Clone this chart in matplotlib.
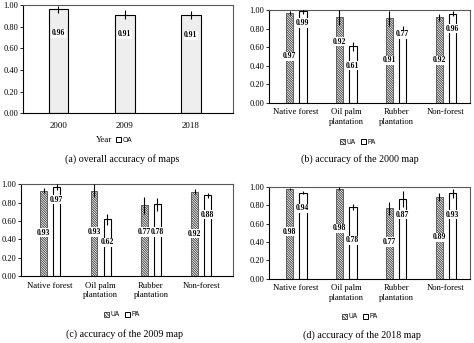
import matplotlib
matplotlib.use("Agg")
import matplotlib.pyplot as plt
import numpy as np
from matplotlib.patches import Patch

# ---------------- data ----------------
years = ["2000", "2009", "2018"]
oa = [0.96, 0.91, 0.91]
oa_err = [0.035, 0.04, 0.035]

classes = ["Native forest", "Oil palm\nplantation", "Rubber\nplantation", "Non-forest"]

ua_2000 = [0.97, 0.92, 0.91, 0.92]
pa_2000 = [0.99, 0.61, 0.77, 0.96]
ua_err_2000 = [0.02, 0.08, 0.08, 0.04]
pa_err_2000 = [0.03, 0.05, 0.06, 0.03]

ua_2009 = [0.93, 0.93, 0.77, 0.92]
pa_2009 = [0.97, 0.62, 0.78, 0.88]
ua_err_2009 = [0.025, 0.07, 0.09, 0.03]
pa_err_2009 = [0.03, 0.06, 0.07, 0.03]

ua_2018 = [0.98, 0.98, 0.77, 0.89]
pa_2018 = [0.94, 0.78, 0.87, 0.93]
ua_err_2018 = [0.01, 0.015, 0.07, 0.04]
pa_err_2018 = [0.02, 0.03, 0.09, 0.05]

# label heights (where the value labels sit)
oa_lab = [0.74, 0.73, 0.72]
ua_lab_2000 = [0.50, 0.66, 0.46, 0.46]
pa_lab_2000 = [0.86, 0.40, 0.74, 0.80]
ua_lab_2009 = [0.47, 0.48, 0.48, 0.46]
pa_lab_2009 = [0.83, 0.37, 0.48, 0.67]
ua_lab_2018 = [0.51, 0.55, 0.40, 0.45]
pa_lab_2018 = [0.77, 0.42, 0.70, 0.70]

captions = ["(a) overall accuracy of maps", "(b) accuracy of the 2000 map",
            "(c) accuracy of the 2009 map", "(d) accuracy of the 2018 map"]

SERIF = "Liberation Serif"
SANS = "Liberation Sans"
W, H = 474, 343
HATCH = "\\" * 14

plt.rcParams["hatch.linewidth"] = 0.6

fig = plt.figure(figsize=(W / 100, H / 100), dpi=100)


def rect(l, t, r, b):
    return [l / W, 1 - b / H, (r - l) / W, (b - t) / H]


def style_axes(ax):
    ax.set_ylim(0, 1.0)
    ax.set_yticks(np.arange(0, 1.01, 0.2))
    ax.set_yticklabels([f"{v:.2f}" for v in np.arange(0, 1.01, 0.2)],
                       fontfamily=SERIF, fontsize=6.0)
    ax.tick_params(axis="y", direction="out", length=2, width=0.6, pad=1.2)
    ax.tick_params(axis="x", length=0, pad=4)
    for s in ax.spines.values():
        s.set_linewidth(0.8)
        s.set_color("#595959")
    ax.spines["left"].set_color("black")
    ax.spines["bottom"].set_color("black")


def label(ax, x, y, v):
    ax.text(x, y, f"{v:.2f}", ha="center", va="center", fontfamily=SERIF,
            fontsize=5.5, fontweight="bold",
            bbox=dict(facecolor="white", edgecolor="none", pad=0.4))


# ---------------- panel a ----------------
ax = fig.add_axes(rect(22.7, 5, 233.3, 113.3))
xa = np.arange(len(years))
ax.bar(xa, oa, width=0.3, color="#eeeeee", edgecolor="black", linewidth=0.8, zorder=2)
ax.errorbar(xa, oa, yerr=oa_err, fmt="none", ecolor="black", elinewidth=0.8, capsize=0, zorder=3)
for x, v, p in zip(xa, oa, oa_lab):
    label(ax, x, p, v)
ax.set_xlim(-0.54, 2.64)
ax.set_xticks(xa)
ax.set_xticklabels(years, fontfamily=SERIF, fontsize=6.4)
style_axes(ax)
ax.tick_params(axis="x", pad=6)
fig.text(112 / W, 1 - 140 / H, "Year", ha="right", va="center", fontfamily=SERIF, fontsize=6.4)
fig.legend(handles=[Patch(facecolor="white", edgecolor="black", linewidth=0.7, label="OA")],
           loc="center left", bbox_to_anchor=(116 / W, 1 - 140 / H), frameon=False,
           prop={"family": SANS, "size": 4.8}, handlelength=0.8, handleheight=0.8,
           handletextpad=0.2, borderpad=0, borderaxespad=0)
fig.text(122 / W, 1 - 159 / H, captions[0], ha="center", va="center", fontfamily=SERIF, fontsize=7.2)


# ---------------- panels b, c, d ----------------
def class_panel(r, ua, pa, uae, pae, ual, pal, xlim, off, bw, leg_xy, cap_xy, cap):
    ax = fig.add_axes(rect(*r))
    x = np.arange(len(classes))
    ax.bar(x - off, ua, width=bw, facecolor="white", edgecolor="#333333", hatch=HATCH,
           linewidth=0.5, zorder=2)
    ax.bar(x + off, pa, width=bw, facecolor="white", edgecolor="black", linewidth=0.8, zorder=2)
    ax.errorbar(x - off, ua, yerr=uae, fmt="none", ecolor="black", elinewidth=0.8, capsize=0, zorder=3)
    ax.errorbar(x + off, pa, yerr=pae, fmt="none", ecolor="black", elinewidth=0.8, capsize=0, zorder=3)
    for xi, v, p in zip(x - off, ua, ual):
        label(ax, xi, p, v)
    for xi, v, p in zip(x + off, pa, pal):
        label(ax, xi, p, v)
    ax.set_xlim(*xlim)
    ax.set_xticks(x)
    ax.set_xticklabels(classes, fontfamily=SERIF, fontsize=6.2, linespacing=1.3)
    style_axes(ax)
    fig.legend(handles=[Patch(facecolor="white", edgecolor="#333333", hatch="\\" * 10,
                              linewidth=0.6, label="UA"),
                        Patch(facecolor="white", edgecolor="black", linewidth=0.7, label="PA")],
               loc="center", bbox_to_anchor=(leg_xy[0] / W, 1 - leg_xy[1] / H), ncol=2,
               frameon=False, prop={"family": SANS, "size": 4.8}, handlelength=0.8,
               handleheight=0.8, handletextpad=0.2, columnspacing=0.8, borderpad=0,
               borderaxespad=0)
    fig.text(cap_xy[0] / W, 1 - cap_xy[1] / H, cap, ha="center", va="center",
             fontfamily=SERIF, fontsize=7.2)


class_panel((268.7, 10, 470, 102.7), ua_2000, pa_2000, ua_err_2000, pa_err_2000,
            ua_lab_2000, pa_lab_2000, (-0.55, 3.48), 0.133, 0.15, (358, 142), (360, 159), captions[1])
class_panel((21, 184.3, 233, 276), ua_2009, pa_2009, ua_err_2009, pa_err_2009,
            ua_lab_2009, pa_lab_2009, (-0.58, 3.63), 0.13, 0.135, (122, 315), (124, 334), captions[2])
class_panel((268.7, 187, 470, 278.7), ua_2018, pa_2018, ua_err_2018, pa_err_2018,
            ua_lab_2018, pa_lab_2018, (-0.55, 3.48), 0.133, 0.15, (360, 317), (362, 335), captions[3])

fig.savefig("out.png", dpi=100)
